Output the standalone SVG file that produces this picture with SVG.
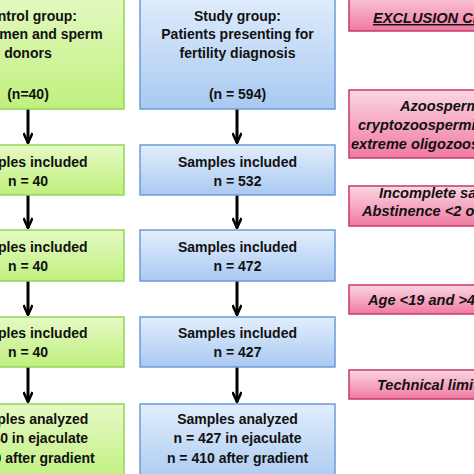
<svg xmlns="http://www.w3.org/2000/svg" width="474" height="474" viewBox="0 0 474 474">
<defs>
<linearGradient id="gG" x1="0" y1="0" x2="0" y2="1"><stop offset="0" stop-color="#e6f9c4"/><stop offset="1" stop-color="#bff07e"/></linearGradient>
<linearGradient id="gB" x1="0" y1="0" x2="0" y2="1"><stop offset="0" stop-color="#e2eefc"/><stop offset="1" stop-color="#a9c9f1"/></linearGradient>
<linearGradient id="gP" x1="0" y1="0" x2="0" y2="1"><stop offset="0" stop-color="#fbd6e3"/><stop offset="1" stop-color="#f07aa2"/></linearGradient>
<marker id="ah" viewBox="0 0 12 10" refX="11" refY="5" markerWidth="12" markerHeight="10" markerUnits="userSpaceOnUse" orient="auto"><path d="M1,0.5 L11,5 L1,9.5" fill="none" stroke="#000" stroke-width="2.5"/></marker>
</defs>
<style>
.g{fill:url(#gG);stroke:#93d45a;stroke-width:1.5}
.b{fill:url(#gB);stroke:#6e9ad8;stroke-width:1.5}
.p{fill:url(#gP);stroke:#c4386d;stroke-width:1.5}
text{font-family:"Liberation Sans",Arial,sans-serif;font-weight:bold;font-size:14px;fill:#111}
.c{text-anchor:middle}
.i{font-style:italic;font-size:14.6px}
.e{stroke:#000;stroke-width:3;fill:none;marker-end:url(#ah)}
</style>
<rect width="474" height="474" fill="#fff"/>
<g id="connectors">
<line class="e" x1="28" y1="109" x2="28" y2="143"/>
<line class="e" x1="28" y1="195" x2="28" y2="228"/>
<line class="e" x1="28" y1="281" x2="28" y2="315"/>
<line class="e" x1="28" y1="367" x2="28" y2="402"/>
<line class="e" x1="237" y1="109" x2="237" y2="143"/>
<line class="e" x1="237" y1="195" x2="237" y2="228"/>
<line class="e" x1="237" y1="281" x2="237" y2="315"/>
<line class="e" x1="237" y1="367" x2="237" y2="402"/>
</g>
<g id="control-group"><rect class="g" x="-68" y="-10" width="192" height="119"/>
<text class="c" x="28" y="21">Control group:</text><text class="c" x="28" y="39">Fertile men and sperm</text><text class="c" x="28" y="58">donors</text><text class="c" x="28" y="99">(n=40)</text></g>
<g id="control-1"><rect class="g" x="-68" y="145" width="192" height="50"/><text class="c" x="28" y="167">Samples included</text><text class="c" x="28" y="186">n = 40</text></g>
<g id="control-2"><rect class="g" x="-68" y="230" width="192" height="51"/><text class="c" x="28" y="252">Samples included</text><text class="c" x="28" y="271">n = 40</text></g>
<g id="control-3"><rect class="g" x="-68" y="317" width="192" height="50"/><text class="c" x="28" y="338">Samples included</text><text class="c" x="28" y="357">n = 40</text></g>
<g id="control-4"><rect class="g" x="-68" y="404" width="192" height="80"/><text class="c" x="28" y="424">Samples analyzed</text><text class="c" x="28" y="443">n = 40 in ejaculate</text><text class="c" x="28" y="463">n = 40 after gradient</text></g>
<g id="study-group"><rect class="b" x="140" y="-10" width="195" height="119"/>
<text class="c" x="237.5" y="21">Study group:</text><text class="c" x="237.5" y="39">Patients presenting for</text><text class="c" x="237.5" y="58">fertility diagnosis</text><text class="c" x="237.5" y="99">(n = 594)</text></g>
<g id="study-1"><rect class="b" x="140" y="145" width="195" height="50"/><text class="c" x="237.5" y="167">Samples included</text><text class="c" x="237.5" y="186">n = 532</text></g>
<g id="study-2"><rect class="b" x="140" y="230" width="195" height="51"/><text class="c" x="237.5" y="252">Samples included</text><text class="c" x="237.5" y="271">n = 472</text></g>
<g id="study-3"><rect class="b" x="140" y="317" width="195" height="50"/><text class="c" x="237.5" y="338">Samples included</text><text class="c" x="237.5" y="357">n = 427</text></g>
<g id="study-4"><rect class="b" x="140" y="404" width="195" height="80"/><text class="c" x="237.5" y="424">Samples analyzed</text><text class="c" x="237.5" y="443">n = 427 in ejaculate</text><text class="c" x="237.5" y="463">n = 410 after gradient</text></g>
<g id="exclusion-header"><rect class="p" x="349" y="-10" width="200" height="41"/><text class="i" x="373" y="23" text-decoration="underline">EXCLUSION CRITERIA</text></g>
<g id="exclusion-1"><rect class="p" x="349" y="90" width="200" height="68"/><text class="i" x="400" y="111">Azoospermia,</text><text class="i" x="358" y="130">cryptozoospermia,</text><text class="i" x="351" y="149">extreme oligozoospermia</text></g>
<g id="exclusion-2"><rect class="p" x="349" y="186" width="200" height="40"/><text class="i" x="379" y="198">Incomplete sample</text><text class="i" x="362" y="216">Abstinence &lt;2 or &gt;7 days</text></g>
<g id="exclusion-3"><rect class="p" x="349" y="285" width="200" height="29"/><text class="i" x="368" y="305">Age &lt;19 and &gt;45 years</text></g>
<g id="exclusion-4"><rect class="p" x="349" y="370" width="200" height="29"/><text class="i" x="377" y="390">Technical limitations</text></g>
</svg>
